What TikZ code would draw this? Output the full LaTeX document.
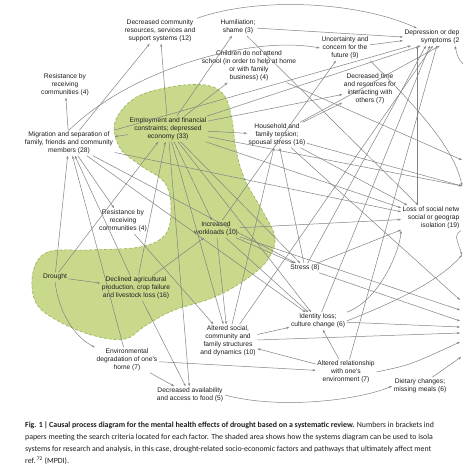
\documentclass[tikz,border=0pt]{standalone}
\usepackage{fontspec}
\setmainfont{Liberation Sans}
\newfontfamily\capfont{Carlito}
\usetikzlibrary{arrows.meta}
\definecolor{blobfill}{RGB}{200,217,140}
\definecolor{blobline}{RGB}{150,178,80}
\definecolor{edgec}{RGB}{130,130,130}
\definecolor{txtc}{RGB}{30,30,30}
\tikzset{
  lbl/.style={align=center,inner sep=1.5pt,text=txtc,font=\fontsize{6.7}{7.9}\selectfont},
  lblr/.style={lbl,align=right,anchor=east},
  arr/.style={draw=edgec,line width=0.5pt,-{Stealth[length=3.2pt,width=2.2pt]}},
  capline/.style={anchor=base west,inner sep=0pt,text=txtc,font=\capfont\fontsize{7.85}{9}\selectfont}
}
\begin{document}
\begin{tikzpicture}[x=1pt,y=-1pt]
\useasboundingbox (0,0) rectangle (474,470);
\fill[white] (0,0) rectangle (474,470);
% shaded area
\filldraw[fill=blobfill,draw=blobline,densely dashed,line width=0.6pt]
 plot[smooth cycle,tension=0.6] coordinates{
 (115,122) (135,98) (170,87) (205,85) (224,95) (232,120) (236,150) (245,180)
 (262,210) (275,238) (266,262) (242,282) (212,298) (172,311) (145,326) (125,339)
 (95,336) (60,322) (36,303) (33,272) (48,252) (90,250) (140,247) (165,235)
 (171,210) (165,183) (140,165) (120,148)};
% nodes
\node[lbl] (dc) at (160,31) {Decreased community\\resources, services and\\support systems (12)};
\node[lbl] (hu) at (238,27) {Humiliation;\\shame (3)};
\node[lbl] (ch) at (249,66) {Children do not attend\\school (in order to help at home\\or with family\\business) (4)};
\node[lbl] (un) at (345,48) {Uncertainty and\\concern for the\\future (9)};
\node[lblr] (de) at (461,37) {Depression or dep\\symptoms (2};
\node[lbl] (r1) at (65,85) {Resistance by\\receiving\\communities (4)};
\node[lbl] (dt) at (370,89) {Decreased time\\and resources for\\interacting with\\others (7)};
\node[lbl] (mi) at (69,143) {Migration and separation of\\family, friends and community\\members (28)};
\node[lbl] (em) at (168,129) {Employment and financial\\constraints; depressed\\economy (33)};
\node[lbl] (ho) at (277,135) {Household and\\family tension;\\spousal stress (16)};
\node[lblr] (ls) at (461,218) {Loss of social netw\\social or geograp\\isolation (19)};
\node[lbl] (r2) at (123,221) {Resistance by\\receiving\\communities (4)};
\node[lbl] (iw) at (216,229) {Increased\\workloads (10)};
\node[lbl] (dr) at (55,277) {Drought};
\node[lbl] (da) at (136,288) {Declined agricultural\\production, crop failure\\and livestock loss (16)};
\node[lbl] (st) at (305,268) {Stress (8)};
\node[lbl] (il) at (318,321) {Identity loss;\\culture change (6)};
\node[lbl] (as) at (228,341) {Altered social,\\community and\\family structures\\and dynamics (10)};
\node[lbl] (en) at (127,360) {Environmental\\degradation of one's\\home (7)};
\node[lbl] (ar) at (346,372) {Altered relationship\\with one's\\environment (7)};
\node[lbl] (di) at (420,386) {Dietary changes;\\missing meals (6)};
\node[lbl] (fo) at (190,395) {Decreased availability\\and access to food (5)};
% free ends beyond the right edge
\coordinate (R0) at (463,64);
\coordinate (R1) at (462,160);
\coordinate (R2) at (462,186);
\coordinate (R8) at (462,255);
\coordinate (R9) at (460,300);
\coordinate (R10) at (460,310);
\coordinate (R3) at (460,321);
\coordinate (R4) at (460,327);
\coordinate (R5) at (460,333);
\coordinate (R6) at (460,342);
\coordinate (R7) at (461,357);
% connectors: top
\draw[arr] (mi) -- (r1);
\draw[arr] (mi) -- (dc);
\draw[arr] (em) -- (dc);
\draw[arr] (em) -- (hu);
\draw[arr] (em) -- (ch);
\draw[arr] (dc.north east) .. controls (260,-4) and (360,2) .. ([xshift=14pt]de.north west);
\draw[arr] (hu) -- (de.west);
\draw[arr] (mi.north) .. controls (130,70) and (250,35) .. (un.west);
\draw[arr] (un) -- (de);
\draw[arr] (em) -- ([xshift=18pt]de.south west);
\draw[arr] (mi) -- ([xshift=8pt]de.south west);
\draw[arr] (em) -- (dt);
\draw[arr] (ch) -- (R1);
\draw[arr] (hu) -- (ls);
\draw[arr] (ho) -- (dt);
\draw[arr] (un.south east) .. controls (420,110) and (455,150) .. (R2);
\draw[arr] (iw) -- (un);
% into depression from below
\draw[arr] ([xshift=-14pt]ls.north) -- ([xshift=-14pt]ls.north |- de.south);
\draw[arr] (st) -- ([xshift=23pt]de.south west);
\draw[arr] (il) -- ([xshift=27pt]de.south west);
\draw[arr] (as) -- ([xshift=30pt]de.south west);
\draw[arr] (ar) -- ([xshift=34pt]de.south west);
\draw[arr] (ho) -- ([xshift=37pt]de.south west);
\draw[arr] (R0) .. controls (458,58) .. ([xshift=52pt]de.south west);
% into loss of social networks
\draw[arr] (mi) -- (ls);
\draw[arr] (em) -- (ls);
\draw[arr] (ho) -- (ls);
\draw[arr] (iw) -- (ls);
\draw[arr] (st) -- (ls);
\draw[arr] (il.north east) .. controls (380,300) and (400,250) .. (ls.south west);
% right edge
\draw[arr] (ho) -- (R2);
\draw[arr] (em) -- (R2);
\draw[arr] (ls.south east) .. controls (455,235) .. (R8);
\draw[arr] (il.east) .. controls (400,300) and (440,280) .. (R8);
\draw[arr] (ho) -- (R9);
\draw[arr] (iw) -- (R10);
\draw[arr] (st) -- (R3);
\draw[arr] (il) -- (R4);
\draw[arr] (as) -- (R5);
\draw[arr] (ar.east) .. controls (410,365) .. (R6);
\draw[arr] (di) -- (R7);
% middle
\draw[arr] (em) -- (mi);
\draw[arr] (em) -- (ho);
\draw[arr] (em) -- (iw);
\draw[arr] (em) -- (as);
\draw[arr] (em) -- (st);
\draw[arr] (em) -- (il);
\draw[arr] (em) -- (fo);
\draw[arr] (mi) -- (st);
\draw[arr] (mi) -- (r2);
\draw[arr] (mi) -- (il);
\draw[arr] (iw) -- (st);
\draw[arr] (iw) -- (as);
\draw[arr] (iw) -- (il);
\draw[arr] (st) -- (ho);
\draw[arr] (as) -- (ho);
\draw[arr] (r2) -- (as);
% drought and lower left
\draw[arr] (dr) -- (mi);
\draw[arr] (dr) -- (em);
\draw[arr] (dr) -- (da);
\draw[arr] (dr.south) .. controls (60,320) and (80,340) .. (en.north west);
\draw[arr] (da) -- (iw);
\draw[arr] (da) -- (em);
\draw[arr] (da) -- (fo);
\draw[arr] (da) -- (mi);
\draw[arr] (en) -- (mi);
\draw[arr] (en) -- (fo);
\draw[arr] (en) -- (ar);
\draw[arr] (ar) -- (as);
\draw[arr] (as) -- (il);
\draw[arr] (ar) -- (il);
\draw[arr] (fo.east) .. controls (280,410) and (360,400) .. (di.west);
% caption
\node[capline] (cap1) at (25,427) {\textbf{Fig. 1\,|\,Causal process diagram for the mental health effects of drought based on a systematic review.} Numbers in brackets ind};
\node[capline] (cap2) at (25,439.5) {papers meeting the search criteria located for each factor. The shaded area shows how the systems diagram can be used to isola};
\node[capline] (cap3) at (25,451.5) {systems for research and analysis, in this case, drought-related socio-economic factors and pathways that ultimately affect ment};
\node[capline] (cap4) at (25,463) {ref.\,\textsuperscript{72} (MPDI).};
\end{tikzpicture}
\end{document}
